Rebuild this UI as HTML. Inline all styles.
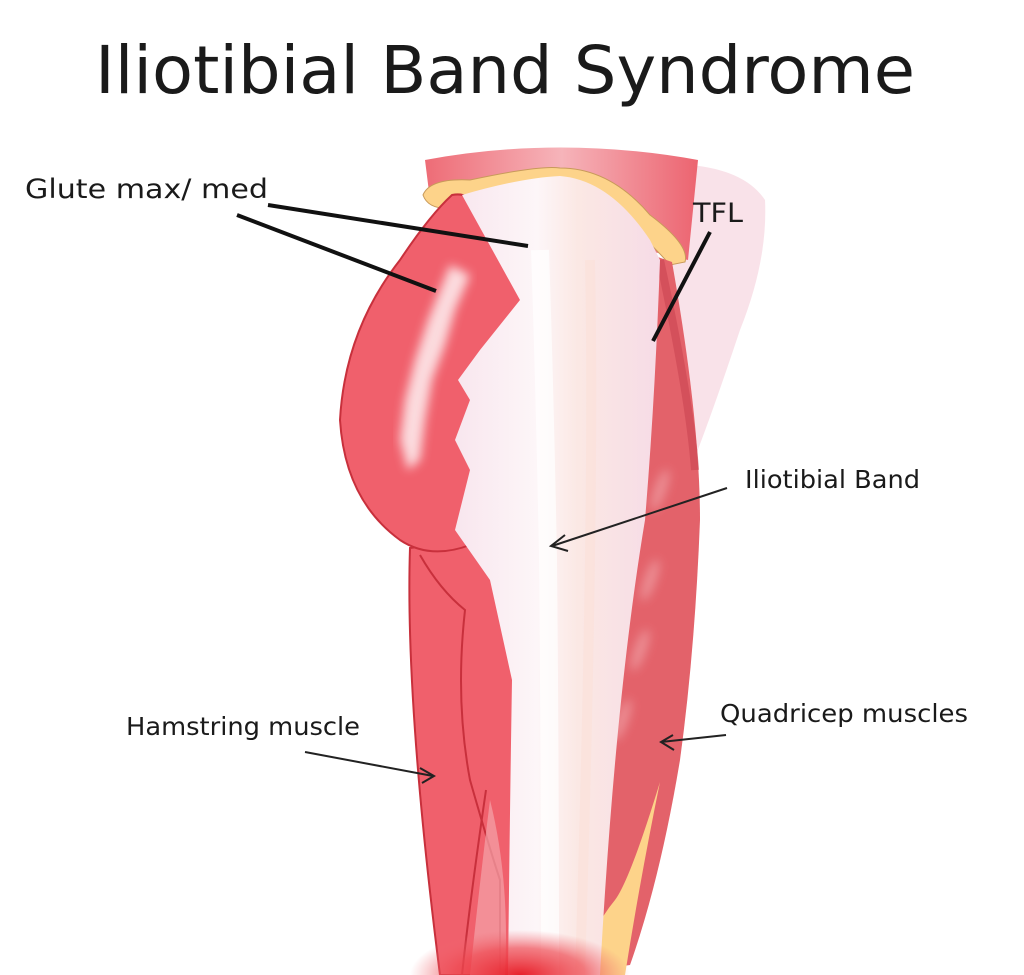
<!DOCTYPE html>
<html><head><style>
html,body{margin:0;padding:0;background:#fff;}
svg{display:block;}
text{font-family:"DejaVu Sans","Liberation Sans",sans-serif;fill:#1a1a1a;}
</style></head><body>
<svg width="1024" height="975" viewBox="0 0 1024 975" xmlns="http://www.w3.org/2000/svg">
<defs>
<linearGradient id="disc" x1="0" y1="0" x2="1" y2="0">
<stop offset="0" stop-color="#ee6c76"/><stop offset="0.5" stop-color="#f6b4ba"/><stop offset="1" stop-color="#ec6470"/></linearGradient>
<linearGradient id="band" x1="0" y1="0" x2="1" y2="0">
<stop offset="0" stop-color="#f8e6ee"/><stop offset="0.4" stop-color="#fdf6f8"/><stop offset="0.6" stop-color="#fbe8e4"/><stop offset="1" stop-color="#f6dbe6"/></linearGradient>
<radialGradient id="glow" cx="0.5" cy="0.5" r="0.5">
<stop offset="0" stop-color="#e8202a"/><stop offset="0.6" stop-color="#ee4a52" stop-opacity="0.7"/><stop offset="1" stop-color="#f06c74" stop-opacity="0"/></radialGradient>
<filter id="blur"><feGaussianBlur stdDeviation="5"/></filter>
</defs>

<text x="95" y="93" font-size="66" textLength="820" lengthAdjust="spacingAndGlyphs">Iliotibial Band Syndrome</text>

<!-- faint right shape -->
<path d="M690 165 Q745 170 765 200 Q768 260 740 330 Q710 420 690 470 L660 300 Z" fill="#f7dbe4" opacity="0.8"/>
<!-- pelvis disc -->
<path d="M425 160 Q560 135 698 160 L688 260 L430 200 Z" fill="url(#disc)"/>
<!-- yellow band -->
<path d="M423 195 Q430 178 470 180 Q540 165 560 168 Q610 168 650 215 Q690 245 685 262 L670 265 Q640 230 600 205 Q540 190 470 205 Q430 215 423 195 Z" fill="#fdd38a" stroke="#c89a5a" stroke-width="1"/>
<!-- quadricep -->
<path d="M652 255 L672 262 Q700 420 700 520 Q695 650 680 760 Q660 880 630 965 L560 975 L600 560 Z" fill="#e3626a"/>
<path d="M660 260 Q690 400 695 470" stroke="#c94452" stroke-width="8" fill="none" opacity="0.6"/>
<g fill="#f0a0a6" opacity="0.7" filter="url(#blur)">
<ellipse cx="660" cy="490" rx="6" ry="22" transform="rotate(20 660 490)"/>
<ellipse cx="650" cy="580" rx="6" ry="22" transform="rotate(20 650 580)"/>
<ellipse cx="640" cy="650" rx="6" ry="22" transform="rotate(20 640 650)"/>
<ellipse cx="622" cy="720" rx="6" ry="22" transform="rotate(20 622 720)"/>
</g>
<!-- yellow tendon -->
<path d="M660 782 Q630 880 615 900 Q590 930 580 975 L625 975 Q640 880 660 782 Z" fill="#fdd38a"/>
<!-- hamstring -->
<path d="M410 548 Q405 700 440 975 L515 975 L520 520 L470 540 Z" fill="#f0606c" stroke="#c8303c" stroke-width="2"/>
<path d="M420 555 Q440 590 465 610 Q455 700 470 780 Q490 850 500 880 L500 975" fill="none" stroke="#c8303c" stroke-width="2"/>
<path d="M486 790 Q470 900 462 975" fill="none" stroke="#c8303c" stroke-width="2"/>
<path d="M490 800 Q510 880 505 975 L470 975 Q480 880 490 800 Z" fill="#f4a4aa" opacity="0.7"/>
<!-- glute -->
<path d="M452 195 Q468 192 475 205 L530 300 L470 545 Q430 560 400 540 Q345 500 340 420 Q345 330 400 260 Q430 215 452 195 Z" fill="#f0606c" stroke="#c8303c" stroke-width="2"/>
<g fill="#fde8ea" filter="url(#blur)" opacity="0.9">
<path d="M450 265 L470 275 L455 310 L445 345 L432 380 L425 420 L420 460 L408 470 L400 440 L405 400 L415 360 L428 320 Z"/>
</g>
<!-- IT band white fascia -->
<path d="M462 195 Q520 178 560 176 Q610 180 650 240 L660 260 Q655 400 645 520 Q615 700 600 975 L508 975 Q510 800 512 680 L490 580 L455 530 L470 470 L455 440 L470 400 L458 380 L480 350 L520 300 Z" fill="url(#band)"/>
<path d="M540 250 Q545 400 548 560 Q550 760 550 975" stroke="#ffffff" stroke-width="18" fill="none" opacity="0.7"/>
<path d="M590 260 Q595 500 580 975" stroke="#fbe1da" stroke-width="10" fill="none" opacity="0.7"/>
<!-- bottom glow -->
<ellipse cx="520" cy="975" rx="110" ry="45" fill="url(#glow)"/>

<!-- labels -->
<text x="25" y="198" font-size="27" textLength="243" lengthAdjust="spacingAndGlyphs">Glute max/ med</text>
<line x1="268" y1="205" x2="528" y2="246" stroke="#111" stroke-width="4"/>
<line x1="237" y1="215" x2="436" y2="291" stroke="#111" stroke-width="4"/>
<text x="693" y="222" font-size="27" textLength="50" lengthAdjust="spacingAndGlyphs">TFL</text>
<line x1="710" y1="232" x2="653" y2="341" stroke="#111" stroke-width="4"/>
<text x="745" y="488" font-size="25" textLength="175" lengthAdjust="spacingAndGlyphs">Iliotibial Band</text>
<line x1="727" y1="488" x2="552" y2="546" stroke="#222" stroke-width="2"/>
<path d="M565 535 L551 546 L568 551" fill="none" stroke="#222" stroke-width="2"/>
<text x="126" y="735" font-size="25" textLength="234" lengthAdjust="spacingAndGlyphs">Hamstring muscle</text>
<line x1="305" y1="752" x2="433" y2="776" stroke="#222" stroke-width="2"/>
<path d="M420 768 L434 776 L422 783" fill="none" stroke="#222" stroke-width="2"/>
<text x="720" y="722" font-size="25" textLength="248" lengthAdjust="spacingAndGlyphs">Quadricep muscles</text>
<line x1="726" y1="735" x2="661" y2="742" stroke="#222" stroke-width="2"/>
<path d="M673 735 L661 742 L674 750" fill="none" stroke="#222" stroke-width="2"/>
</svg>
</body></html>
